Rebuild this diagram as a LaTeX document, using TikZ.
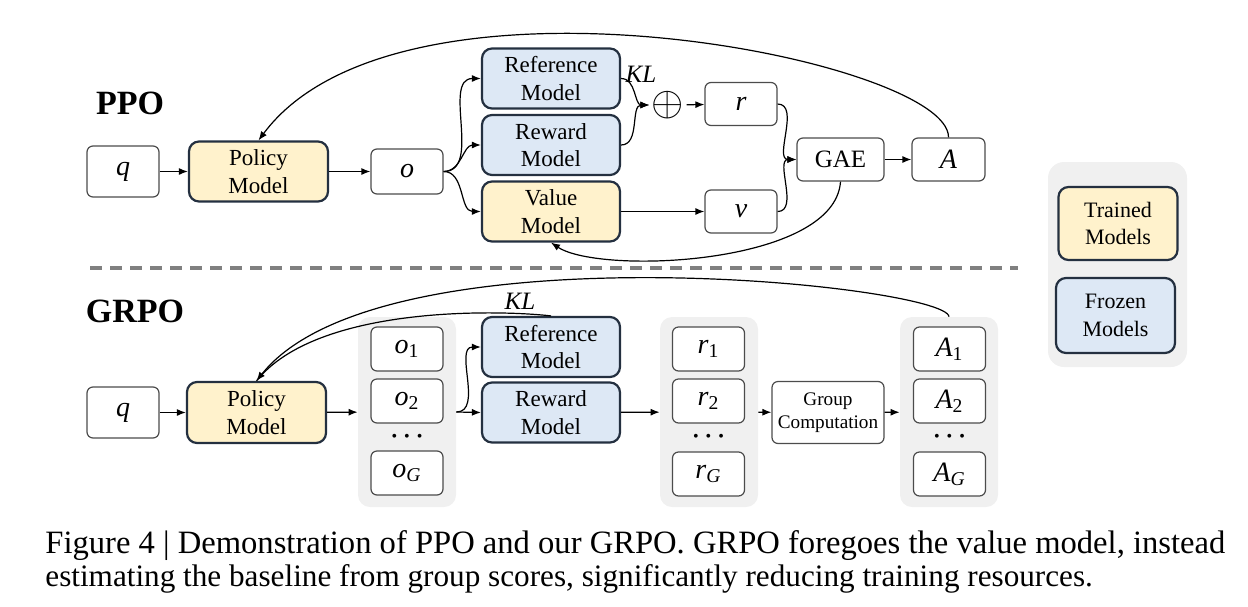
\documentclass[tikz,border=0pt]{standalone}
\usepackage{fontspec}
\setmainfont{Liberation Serif}
\usetikzlibrary{arrows.meta}
\definecolor{trainfill}{RGB}{255,242,204}
\definecolor{frozenfill}{RGB}{221,232,245}
\definecolor{modeledge}{RGB}{36,48,64}
\definecolor{panelgray}{RGB}{240,240,240}
\definecolor{dashgray}{RGB}{128,128,128}
\newcommand{\vsub}[2]{\textit{#1}\textsubscript{#2}}
\newcommand{\rowdots}{\textbullet\hspace{3.5pt}\textbullet\hspace{3.5pt}\textbullet}
\begin{document}
\begin{tikzpicture}[x=0.5pt,y=-0.5pt]
        \tikzstyle{trained} = [draw=modeledge,line width=1.1pt,fill=trainfill,rounded corners=5pt,align=center,minimum width=69pt,minimum height=30pt,inner sep=0pt,font=\fontsize{11.5}{13.8}\selectfont]
        \tikzstyle{frozen} = [trained,fill=frozenfill]
        \tikzstyle{var} = [draw=black!70,line width=0.6pt,fill=white,rounded corners=3pt,minimum width=36pt,minimum height=22pt,inner sep=0pt,font=\fontsize{14}{16}\selectfont]
        \tikzstyle{panel} = [fill=panelgray,rounded corners=6pt,minimum width=49pt,minimum height=95pt,inner sep=0pt]
        \tikzstyle{dots} = [inner sep=0pt,font=\fontsize{8}{8}\selectfont]
        \tikzstyle{title} = [font=\fontsize{17}{20}\selectfont\bfseries]
        \tikzstyle{flow} = [-{Latex[length=4.5pt,width=3.5pt]},line width=0.6pt]

        \useasboundingbox (0,0) rectangle (1248,606);

        % PPO
        \node[title] (ppo) at (130,103) {PPO};
        \node[var,minimum height=25.5pt] (q1) at (123,171.5) {\textit{q}};
        \node[trained,minimum width=69.5pt] (pol1) at (258.5,171.5) {Policy\\Model};
        \node[var,minimum height=22.5pt] (o) at (407,171.5) {\textit{o}};
        \node[frozen] (ref1) at (551,78.5) {Reference\\Model};
        \node[frozen] (rew1) at (551,145) {Reward\\Model};
        \node[trained] (val) at (551,211.5) {Value\\Model};
        \node[inner sep=1pt,font=\fontsize{21}{22}\selectfont] (plus) at (668,105) {$\oplus$};
        \node[var,minimum height=21.5pt] (r) at (741,104) {\textit{r}};
        \node[var,minimum height=21.5pt] (v) at (741,211.5) {\textit{v}};
        \node[var,minimum width=43.5pt,minimum height=21.5pt,font=\fontsize{12.5}{14}\selectfont] (gae) at (840.5,159.5) {GAE};
        \node[var,minimum width=36.5pt,minimum height=21.5pt] (A) at (948.5,159.5) {\textit{A}};
        \node[font=\fontsize{12.5}{14}\selectfont\itshape] (kl1) at (641,74) {KL};

        \draw[flow] (q1) -- (pol1);
        \draw[flow] (pol1) -- (o);
        \draw[flow] (o.east) to[out=0,in=180] (ref1.west);
        \draw[flow] (o.east) to[out=0,in=180] (rew1.west);
        \draw[flow] (o.east) to[out=0,in=180] (val.west);
        \draw[flow] (ref1.east) to[out=0,in=180] (plus.west);
        \draw[flow] (rew1.east) to[out=0,in=180] (plus.west);
        \draw[flow] (plus) -- (r);
        \draw[flow] (val) -- (v);
        \draw[flow] (r.east) to[out=0,in=180] (gae.west);
        \draw[flow] (v.east) to[out=0,in=180] (gae.west);
        \draw[flow] (gae) -- (A);
        \draw[flow] (A.north) .. controls (950,60) and (400,-50) .. (pol1.north);
        \draw[flow] (gae.south) .. controls (835,265) and (600,275) .. (val.south);

        \coordinate (divl) at (90,268);
        \coordinate (divr) at (1018,268);
        \draw[dashgray,line width=2pt,dash pattern=on 6pt off 4pt] (divl) -- (divr);

        % GRPO
        \node[title] (grpo) at (135,311) {GRPO};
        \node[var,minimum height=25.5pt] (q2) at (123,412.5) {\textit{q}};
        \node[trained,minimum width=69.5pt,minimum height=30.5pt] (pol2) at (256.5,412.5) {Policy\\Model};

        \node[panel] (op) at (407,412) {};
        \node[var] (o1) at (407,349) {\vsub{o}{1}};
        \node[var] (o2) at (407,401) {\vsub{o}{2}};
        \node[dots] (od) at (407,438) {\rowdots};
        \node[var] (oG) at (407,473) {\vsub{o}{\textit{G}}};

        \node[frozen] (ref2) at (551,347) {Reference\\Model};
        \node[frozen] (rew2) at (551,412.5) {Reward\\Model};

        \node[panel] (rp) at (709,412) {};
        \node[var] (r1) at (708.5,349) {\vsub{r}{1}};
        \node[var] (r2) at (708.5,401) {\vsub{r}{2}};
        \node[dots] (rd) at (708.5,438) {\rowdots};
        \node[var] (rG) at (708.5,474) {\vsub{r}{\textit{G}}};

        \node[var,align=center,minimum width=56pt,minimum height=31pt,font=\fontsize{9.6}{11.5}\selectfont] (grp) at (828,412.5) {Group\\Computation};

        \node[panel] (Ap) at (949,412) {};
        \node[var] (A1) at (949.5,349) {\vsub{A}{1}};
        \node[var] (A2) at (949.5,401) {\vsub{A}{2}};
        \node[dots] (Ad) at (949.5,438) {\rowdots};
        \node[var] (AG) at (949.5,474) {\vsub{A}{\textit{G}}};

        \node[font=\fontsize{12.5}{14}\selectfont\itshape] (kl2) at (520,301) {KL};

        \draw[flow] (q2) -- (pol2);
        \draw[flow] (pol2) -- (op);
        \draw[flow] (op.east) -- (rew2.west);
        \draw[flow] (op.east) to[out=0,in=180] (ref2.west);
        \draw[flow] (rew2) -- (rp);
        \draw[flow] (rp) -- (grp);
        \draw[flow] (grp) -- (Ap);
        \draw[flow] (Ap.north) .. controls (945,285) and (380,225) .. (pol2.north);
        \draw[line width=0.6pt] (ref2.north) .. controls (500,310) and (317,305) .. (pol2.north);

        % legend
        \node[panel,minimum width=69.5pt,minimum height=102.5pt,rounded corners=8pt] (legend) at (1117.5,264.5) {};
        \node[trained,minimum width=59.5pt,minimum height=36.5pt,font=\fontsize{11}{13.8}\selectfont] (trainkey) at (1118,223.5) {Trained\\Models};
        \node[frozen,minimum width=59.5pt,minimum height=37.5pt,font=\fontsize{11}{13.8}\selectfont] (frozenkey) at (1115.5,315.5) {Frozen\\Models};

        % caption
        \node[anchor=base west,inner sep=0pt,font=\fontsize{16.3}{18}\selectfont] (cap1) at (45,553) {Figure 4 | Demonstration of PPO and our GRPO. GRPO foregoes the value model, instead};
        \node[anchor=base west,inner sep=0pt,font=\fontsize{15.6}{18}\selectfont] (cap2) at (45,586) {estimating the baseline from group scores, significantly reducing training resources.};

    \end{tikzpicture}
\end{document}
